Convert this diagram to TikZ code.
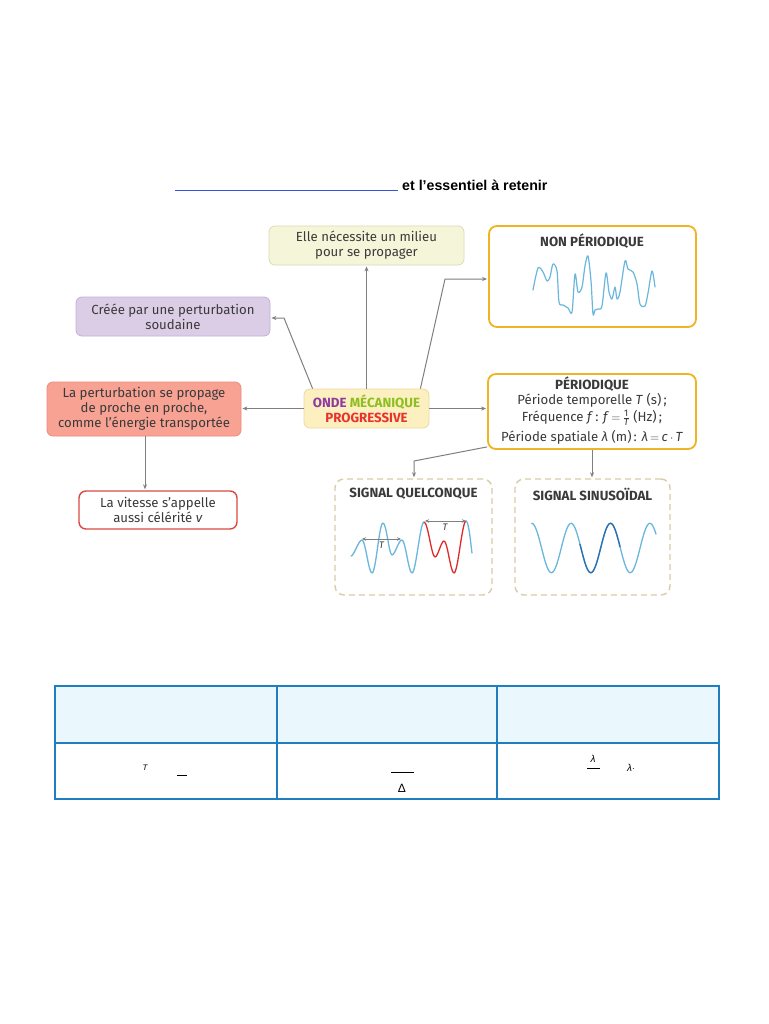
\documentclass[tikz,border=0pt]{standalone}
\usepackage{fontspec}
\setmainfont{Fira Sans}
\newfontfamily\arialf{Liberation Sans}
\usetikzlibrary{arrows.meta,calc}
\definecolor{txt}{HTML}{3A3A3A}
\definecolor{conncol}{HTML}{7F7F7F}
\definecolor{ellefill}{HTML}{F5F5D9}
\definecolor{elledraw}{HTML}{DCDCB4}
\definecolor{creefill}{HTML}{DCCDE6}
\definecolor{creedraw}{HTML}{C4B0D6}
\definecolor{lpfill}{HTML}{F8A294}
\definecolor{lpdraw}{HTML}{EE8A7C}
\definecolor{cfill}{HTML}{FCEFC0}
\definecolor{cdraw}{HTML}{EFD9A0}
\definecolor{orangeb}{HTML}{F0B323}
\definecolor{vitdraw}{HTML}{D94A45}
\definecolor{beige}{HTML}{D8CDA8}
\definecolor{wavecol}{HTML}{6BB6DC}
\definecolor{wavedark}{HTML}{2A6FB0}
\definecolor{wavered}{HTML}{E02A2A}
\definecolor{ondecol}{HTML}{8E3A9E}
\definecolor{mecacol}{HTML}{8CBF1F}
\definecolor{progcol}{HTML}{E8322C}
\definecolor{titleblue}{HTML}{3355DD}
\definecolor{tabline}{HTML}{1F7DC0}
\definecolor{tabfill}{HTML}{EAF7FD}
\begin{document}
\begin{tikzpicture}[x=1pt,y=-1pt,
  boxtext/.style={font=\fontsize{13.2}{15}\selectfont, text=txt, align=center, inner sep=0pt},
  pastel/.style={boxtext, rounded corners=6pt, line width=0.8pt},
  orangebox/.style={draw=orangeb, line width=1.8pt, rounded corners=8pt, fill=white, inner sep=0pt},
  dashbox/.style={draw=beige, line width=1.4pt, dash pattern=on 6pt off 4pt, rounded corners=9pt, inner sep=0pt},
  conn/.style={draw=conncol, line width=1pt, -{Stealth[length=5pt,width=4pt]}, shorten >=1pt},
  wave/.style={line width=1.3pt, line cap=round, line join=round},
  boxtitle/.style={font=\fontsize{13.3}{15}\selectfont\bfseries, text=txt, inner sep=0pt},
  tarrow/.style={draw=conncol, line width=1pt, {Stealth[length=4pt,width=3.5pt]}-{Stealth[length=4pt,width=3.5pt]}},
  tlabel/.style={font=\fontsize{9.5}{10}\selectfont\itshape, text=txt, inner sep=0pt},
  tabtext/.style={font=\arialf\fontsize{8}{9}\selectfont, text=black, inner sep=0pt}
]
\useasboundingbox (0,0) rectangle (768,1024);
\fill[white] (0,0) rectangle (768,1024);

% title
\draw[titleblue, line width=1pt] (175,191) -- (398,191);
\node[font=\arialf\bfseries\fontsize{14.2}{16}\selectfont, anchor=west, inner sep=0pt] (ttl) at (402,185) {et l’essentiel à retenir};

% boxes
\node[pastel, fill=ellefill, draw=elledraw, minimum width=195pt, minimum height=39pt] (elle) at (366.5,245.5) {Elle nécessite un milieu\\pour se propager};
\node[pastel, fill=creefill, draw=creedraw, minimum width=194pt, minimum height=39pt] (cree) at (173,316.5) {Créée par une perturbation\\soudaine};
\node[pastel, fill=lpfill, draw=lpdraw, minimum width=194pt, minimum height=54pt] (lp) at (144,409) {La perturbation se propage\\de proche en proche,\\comme l’énergie transportée};
\node[pastel, fill=cfill, draw=cdraw, minimum width=125pt, minimum height=39pt, font=\fontsize{13.3}{15}\selectfont\bfseries] (c) at (366.5,408.5) {\textcolor{ondecol}{ONDE} \textcolor{mecacol}{MÉCANIQUE}\\\textcolor{progcol}{PROGRESSIVE}};
\node[boxtext, draw=vitdraw, line width=1.4pt, rounded corners=7pt, fill=white, minimum width=158pt, minimum height=38pt] (vit) at (158,510) {La vitesse s’appelle\\aussi célérité \textit{v}};

\node[orangebox, minimum width=207pt, minimum height=101pt] (non) at (592.5,276.5) {};
\node[boxtitle] (nontitle) at (592,241) {NON PÉRIODIQUE};

\node[orangebox, minimum width=208pt, minimum height=75pt] (per) at (592,411.5) {};
\node[boxtitle] (pertitle) at (592,384) {PÉRIODIQUE};
\node[boxtext] (perl1) at (592,400) {Période temporelle \textit{T} (s)\,;};
\node[boxtext] (perl2) at (592,418) {Fréquence \textit{f}\,: \textit{f}\,$=$\,$\frac{\mbox{\fontsize{9.5}{9.5}\selectfont 1}}{\mbox{\fontsize{9.5}{9.5}\selectfont\itshape T}}$ (Hz)\,;};
\node[boxtext] (perl3) at (592,437.5) {Période spatiale \textit{λ} (m)\,: \textit{λ}\,$=$\,\textit{c}\,$\cdot$\,\textit{T}};

\node[dashbox, minimum width=157pt, minimum height=116pt] (sq) at (413.5,537) {};
\node[boxtitle] (sqtitle) at (413.5,494) {SIGNAL QUELCONQUE};
\node[dashbox, minimum width=155pt, minimum height=116pt] (ss) at (592.5,537) {};
\node[boxtitle] (sstitle) at (592.5,494) {SIGNAL SINUSOÏDAL};

% connectors
\coordinate (b1) at (284,318);
\coordinate (b2) at (445,279);
\coordinate (b3) at (414,461);
\coordinate (cnw) at ($(c.north west)+(9,0)$);
\coordinate (cne) at ($(c.north east)+(-9,0)$);
\coordinate (lps) at ($(lp.south)+(1,0)$);
\coordinate (psw) at ($(per.south west)+(0,-3)$);
\draw[conn] (c.north) -- (elle.south);
\draw[conn] (cnw) -- (b1) -- (b1 -| cree.east);
\draw[conn] (cne) -- (b2) -- (b2 -| non.west);
\draw[conn] (c.west) -- (c.west -| lp.east);
\draw[conn] (c.east) -- (c.east -| per.west);
\draw[conn] (lps) -- (lps |- vit.north);
\draw[conn] (psw) -- (b3) -- (b3 |- sq.north);
\draw[conn] (per.south) -- (per.south |- ss.north);

% non periodic wave
\draw[wave, wavecol, line width=1.2pt] plot[smooth, tension=0.5] coordinates {
(533,290) (538,268) (543,272) (547,281) (550,277) (553,264) (557,271) (559,302)
(563,305) (568,308) (572,312) (575,274) (578,292) (582,287) (585,266) (588,256)
(591,281) (593,314) (595,310) (598,309) (602,306) (606,273) (609,292) (612,299)
(615,287) (617,299) (620,292) (625,261) (628,269) (633,272) (637,284) (640,304)
(645,306) (648,293) (652,271) (655,287)};

% signal quelconque
\draw[wave, wavecol] (351,556) .. controls +(3,0) and +(-3.5,0) .. (362,540)
  .. controls +(3.5,0) and +(-3.5,0) .. (372,573)
  .. controls +(4,0) and +(-4,0) .. (383,523)
  .. controls +(3.5,0) and +(-3,0) .. (392,555)
  .. controls +(3,0) and +(-3.5,0) .. (402,540)
  .. controls +(3.5,0) and +(-3.5,0) .. (412,573)
  .. controls +(4,0) and +(-4,0) .. (424,522);
\draw[wave, wavered] (424,522) .. controls +(4,0) and +(-3.5,0) .. (435,557)
  .. controls +(3,0) and +(-3,0) .. (444,541)
  .. controls +(3.5,0) and +(-3.5,0) .. (454,573)
  .. controls +(4,0) and +(-4,0) .. (466,521);
\draw[wave, wavecol] (466,521) .. controls +(3,0) and +(-1,-6) .. (472,553);
\draw[tarrow] (362,539) -- (401,539);
\node[tlabel] (t1) at (381.5,545.5) {T};
\draw[tarrow] (425,521) -- (466,521);
\node[tlabel] (t2) at (445,527) {T};

% sinusoid
\draw[wave, wavecol] plot[domain=0:124.3, samples=120] ({531.7+\x}, {548-24.7*cos(9.137*\x)});
\draw[wave, wavedark] plot[domain=48.3:88.3, samples=50] ({531.7+\x}, {548-24.7*cos(9.137*\x)});

% table
\fill[tabfill] (55,686) rectangle (719,743);
\draw[tabline, line width=1.8pt] (55,686) rectangle (719,799);
\draw[tabline, line width=1.5pt] (55,743) -- (719,743);
\draw[tabline, line width=1.5pt] (277,686) -- (277,799);
\draw[tabline, line width=1.5pt] (497,686) -- (497,799);
\node[tabtext, font=\arialf\itshape\fontsize{8}{9}\selectfont] (tt) at (145,768) {T};
\draw[black, line width=0.8pt] (177,775) -- (187,775);
\draw[black, line width=0.8pt] (391,772) -- (414,772);
\node[tabtext, font=\arialf\fontsize{12}{13}\selectfont] (td) at (402,788) {Δ};
\node[tabtext, font=\arialf\itshape\fontsize{10}{11}\selectfont] (tl1) at (593,759) {λ};
\draw[black, line width=0.8pt] (587,768) -- (600,768);
\node[tabtext, font=\arialf\itshape\fontsize{10}{11}\selectfont] (tl2) at (631,768) {λ$\cdot$};
\end{tikzpicture}
\end{document}
